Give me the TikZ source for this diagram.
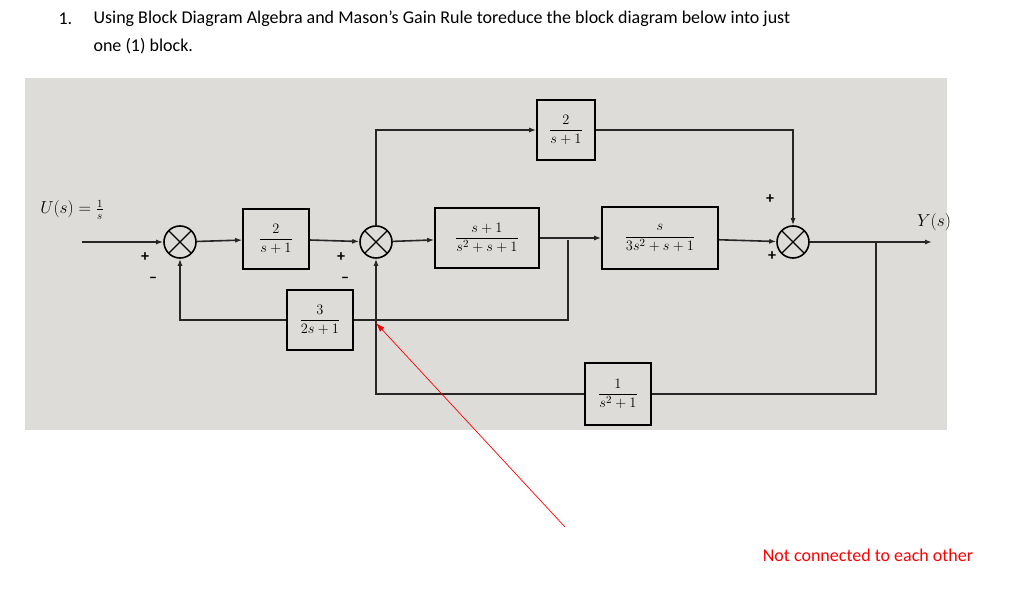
\documentclass[tikz,border=0pt]{standalone}
\usepackage{amsmath}
\usepackage{fontspec}
\setmainfont{Carlito}
\usetikzlibrary{arrows.meta}
\begin{document}
\begin{tikzpicture}[x=1pt,y=-1pt,
  blk/.style={draw,line width=1.6pt,inner sep=1pt,font=\fontsize{15}{17}\selectfont,anchor=center},
  sumj/.style={draw,line width=1.6pt,circle,minimum size=32pt,inner sep=0pt,path picture={
     \draw[line width=1.4pt] (path picture bounding box.north west)--(path picture bounding box.south east)
       (path picture bounding box.north east)--(path picture bounding box.south west);}},
  wire/.style={line width=1.6pt,draw=black!85},
  arr/.style={wire,-{Latex[length=7pt,width=5pt]}},
  sgn/.style={font=\fontsize{16}{16}\selectfont\bfseries}]
\useasboundingbox (0,0) rectangle (1031,591);
\fill[fill={rgb,255:red,222;green,220;blue,217}] (25,78) rectangle (947,430);
\node[anchor=west,font=\fontsize{18}{22}\selectfont] (n1) at (55,19) {1.};
\node[anchor=west,align=left,font=\fontsize{18}{28}\selectfont] (t1) at (90,32) {Using Block Diagram Algebra and Mason’s Gain Rule toreduce the block diagram below into just\\one (1) block.};
\node[sumj] (s1) at (180,242) {};
\node[sumj] (s2) at (376,242) {};
\node[sumj] (s3) at (793,242) {};
\node[blk,minimum width=66pt,minimum height=60pt] (g1) at (276,239) {$\dfrac{2}{s+1}$};
\node[blk,minimum width=104pt,minimum height=60pt] (g2) at (487,238) {$\dfrac{s+1}{s^2+s+1}$};
\node[blk,minimum width=116pt,minimum height=62pt] (g3) at (660,238) {$\dfrac{s}{3s^2+s+1}$};
\node[blk,minimum width=58pt,minimum height=60pt] (g4) at (566,130) {$\dfrac{2}{s+1}$};
\node[blk,minimum width=66pt,minimum height=60pt] (h1) at (320,320) {$\dfrac{3}{2s+1}$};
\node[blk,minimum width=66pt,minimum height=62pt] (h2) at (618,394) {$\dfrac{1}{s^2+1}$};
\coordinate (in) at (82,242);
\coordinate (out) at (932,242);
\coordinate (b1) at (568,240);
\coordinate (b2) at (876,242);
\node[font=\fontsize{16}{16}\selectfont] (u) at (72,210) {$U(s)=\frac{1}{s}$};
\node[font=\fontsize{16}{16}\selectfont] (y) at (934,222) {$Y(s)$};
\draw[arr] (in) -- (s1);
\draw[arr] (s1) -- (g1);
\draw[arr] (g1) -- (s2);
\draw[arr] (s2) -- (g2);
\draw[arr] (g2) -- (g3);
\draw[arr] (g3) -- (s3);
\draw[arr] (s3) -- (out);
\draw[arr] (s2.north) |- (g4.west);
\draw[arr] (g4.east) -| (s3.north);
\draw[wire] (b1) |- (h1.east);
\draw[arr] (h1.west) -| (s1.south);
\draw[wire] (b2) |- (h2.east);
\draw[arr] (h2.west) -| (s2.south);
\node[sgn] (p1) at (145,257) {+};
\node[sgn] (m1) at (153,280) {--};
\node[sgn] (p2) at (341,257) {+};
\node[sgn] (m2) at (345,280) {--};
\node[sgn] (p3) at (770,199) {+};
\node[sgn] (p4) at (772,256) {+};
\coordinate (rt) at (565,527);
\coordinate (rh) at (376,323);
\draw[red,line width=0.7pt,-{Latex[length=9pt,width=6pt]}] (rt) -- (rh);
\node[red,font=\fontsize{18}{22}\selectfont] (nc) at (868,555) {Not connected to each other};
\end{tikzpicture}
\end{document}
